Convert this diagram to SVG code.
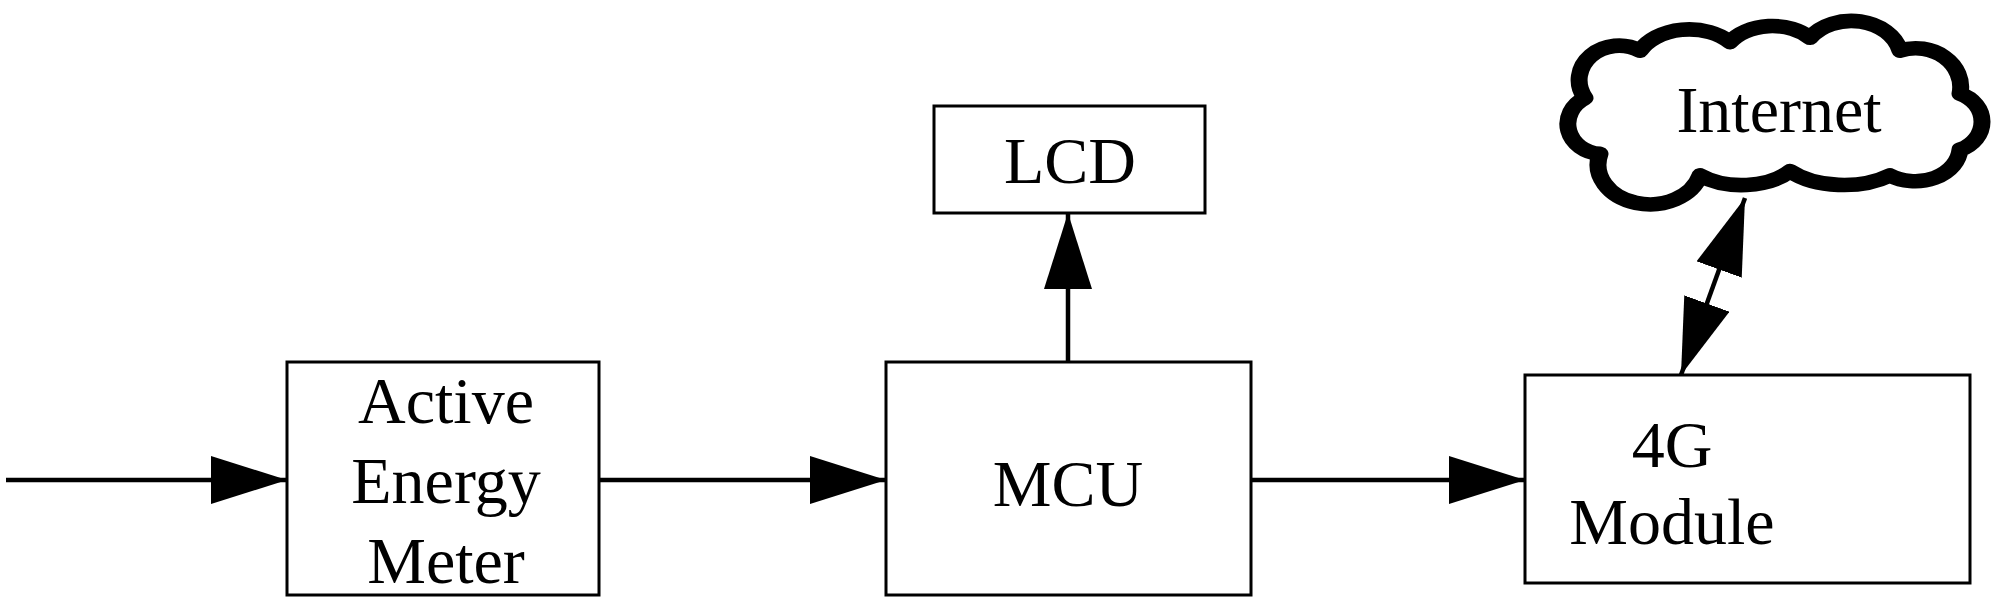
<svg xmlns="http://www.w3.org/2000/svg" width="2008" height="614" viewBox="0 0 2008 614">
<style>
.box{fill:#fff;stroke:#000;stroke-width:3}
.ln{stroke:#000;stroke-width:4.5;fill:none}
text{font-family:"Liberation Serif","Times New Roman",serif;font-size:66px;text-anchor:middle;fill:#000}
</style>
<defs>
<marker id="ah" viewBox="0 0 76 48" refX="76" refY="24" markerWidth="76" markerHeight="48" markerUnits="userSpaceOnUse" orient="auto-start-reverse">
<path d="M0,0 L76,24 L0,48 Z" fill="#000"/>
</marker>
</defs>
<rect width="2008" height="614" fill="#fff"/>
<g id="connectors">
<line class="ln" x1="6" y1="480" x2="287" y2="480" marker-end="url(#ah)"/>
<line class="ln" x1="599" y1="480" x2="886" y2="480" marker-end="url(#ah)"/>
<line class="ln" x1="1068" y1="362" x2="1068" y2="213" marker-end="url(#ah)"/>
<line class="ln" x1="1251" y1="480" x2="1525" y2="480" marker-end="url(#ah)"/>
<line class="ln" x1="1681" y1="375" x2="1745" y2="198" marker-start="url(#ah)" marker-end="url(#ah)"/>
</g>
<g id="aem"><rect class="box" x="287" y="362" width="312" height="233"/>
<text x="446" y="423">Active</text><text x="446" y="503">Energy</text><text x="446" y="583">Meter</text></g>
<g id="mcu"><rect class="box" x="886" y="362" width="365" height="233"/><text x="1068" y="506">MCU</text></g>
<g id="lcd"><rect class="box" x="934" y="106" width="271" height="107"/><text x="1070" y="183">LCD</text></g>
<g id="g4"><rect class="box" x="1525" y="375" width="445" height="208"/>
<text x="1672" y="467">4G</text><text x="1672" y="544">Module</text></g>
<g id="internet">
<path transform="matrix(1 0 0 0.86 0 12)" d="M1600,165 A35,35 0 0 1 1585,100 A40,40 0 0 1 1640,45 A55,45 0 0 1 1730,35 A50,40 0 0 1 1810,30 A50,45 0 0 1 1900,45 A45,45 0 0 1 1960,95 A35,35 0 0 1 1960,160 A45,40 0 0 1 1890,190 A70,45 0 0 1 1790,185 A60,40 0 0 1 1700,190 A45,40 0 0 1 1600,165 Z" fill="#fff" stroke="#000" stroke-width="17" stroke-linejoin="round"/>
<text x="1779" y="132">Internet</text></g>
</svg>
